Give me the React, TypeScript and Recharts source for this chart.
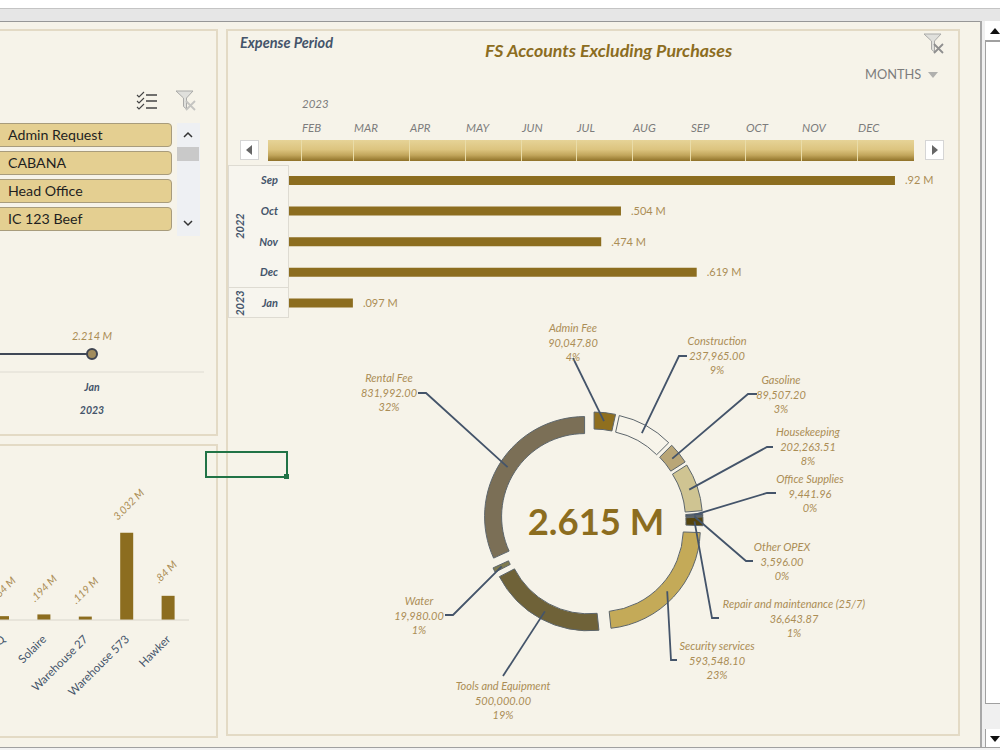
import React from 'react';
import {
  BarChart,
  Bar,
  LineChart,
  Line,
  PieChart,
  Pie,
  Sector,
  XAxis,
  YAxis,
  LabelList,
} from 'recharts';

// monthly expense bars
const periodMonths = ['Sep', 'Oct', 'Nov', 'Dec', 'Jan'];
const periodValues = [0.92, 0.504, 0.474, 0.619, 0.097];

// trend line, only the last point is in view
const trendMonths = ['Dec', 'Jan'];
const trendValues = [2.21, 2.214];

// branch bars
const branchNames = ['HQ', 'Solaire', 'Warehouse 27', 'Warehouse 573', 'Hawker'];
const branchValues = [0.134, 0.194, 0.119, 3.032, 0.84];

// accounts ring
const accountNames = [
  'Admin Fee',
  'Construction',
  'Gasoline',
  'Housekeeping',
  'Office Supplies',
  'Other OPEX',
  'Repair and maintenance (25/7)',
  'Security services',
  'Tools and Equipment',
  'Water',
  'Rental Fee',
];
const accountValues = [
  90047.8, 237965, 89507.2, 202263.51, 9441.96, 3596, 36643.87, 593548.1, 500000, 19980, 831992,
];
const accountPercents = ['4%', '9%', '3%', '8%', '0%', '0%', '1%', '23%', '19%', '1%', '32%'];

const sliceColors = [
  '#8f6f1f',
  '#f7f4ea',
  '#b9a677',
  '#cfc492',
  '#4a5a70',
  '#6a5a30',
  '#54440f',
  '#c4aa58',
  '#6f6238',
  '#7f7b50',
  '#7b6f56',
];

// slicers
const slicerItems = ['Admin Request', 'CABANA', 'Head Office', 'IC 123 Beef'];
const timelineMonths = ['FEB', 'MAR', 'APR', 'MAY', 'JUN', 'JUL', 'AUG', 'SEP', 'OCT', 'NOV', 'DEC'];
const timelineStops = [301, 353, 409, 465, 521, 576, 632, 690, 745, 801, 857];

// page position of each ring label: text centre, first line baseline, leader elbow and stub end
const ringLabelLayout = [
  { x: 573, y: 332, elbow: null, stub: [573, 358] },
  { x: 717, y: 345, elbow: [679, 356], stub: [687, 356] },
  { x: 781, y: 384, elbow: [748, 394], stub: [757, 394] },
  { x: 808, y: 436, elbow: [767, 447], stub: [773, 447] },
  { x: 810, y: 483, elbow: [767, 493], stub: [776, 493] },
  { x: 782, y: 551, elbow: [746, 561], stub: [753, 561] },
  { x: 794, y: 608, elbow: [712, 618], stub: [719, 618] },
  { x: 717, y: 650, elbow: [671, 660], stub: [677, 660] },
  { x: 503, y: 690, elbow: null, stub: [503, 676] },
  { x: 419, y: 605, elbow: [453, 615], stub: [445, 615] },
  { x: 389, y: 382, elbow: [426, 393], stub: [418, 393] },
];

const FONT = 'Lato, sans-serif';
const GOLD = '#8c6d1f';
const SLATE = '#44546a';
const LABEL = '#ab8d55';
const PANEL = '#f6f3e9';
const EDGE = '#e3dac5';

const RING_ORIGIN = { left: 340, top: 320 };
const RING_CENTER = { x: 593, y: 522 };
const RING_INNER = 83;
const RING_OUTER = 100;
const EXPLODE = 10;
const TREND_LEFT = -244;

const periodRows = periodMonths.map((month, i) => ({ month, value: periodValues[i] }));
const trendRows = trendMonths.map((month, i) => ({ month, value: trendValues[i] }));
const branchRows = branchNames.map((name, i) => ({ name, value: branchValues[i] }));
const accountRows = accountNames.map((name, i) => ({
  name,
  value: accountValues[i],
  fill: sliceColors[i],
}));

const shortMillions = (v: number) => `${String(v).replace(/^0/, '')} M`;

const box = (
  left: number,
  top: number,
  width: number,
  height: number,
  extra: React.CSSProperties = {},
): React.CSSProperties => ({
  position: 'absolute',
  left,
  top,
  width,
  height,
  boxSizing: 'border-box',
  ...extra,
});

const ExplodedSlice = (props: any) => {
  const rad = (props.midAngle * Math.PI) / 180;
  return (
    <Sector
      cx={props.cx + EXPLODE * Math.cos(rad)}
      cy={props.cy - EXPLODE * Math.sin(rad)}
      innerRadius={props.innerRadius}
      outerRadius={props.outerRadius}
      startAngle={props.startAngle}
      endAngle={props.endAngle}
      fill={props.fill}
      stroke="#5d666c"
      strokeWidth={1}
    />
  );
};

const RingLabel = (props: any) => {
  const { cx, cy, midAngle, index } = props;
  const rad = (midAngle * Math.PI) / 180;
  const r = EXPLODE + (RING_INNER + RING_OUTER) / 2;
  const ax = cx + r * Math.cos(rad);
  const ay = cy - r * Math.sin(rad);
  const spot = ringLabelLayout[index];
  const at = (p: number[]) => `${p[0] - RING_ORIGIN.left},${p[1] - RING_ORIGIN.top}`;
  const points = [`${ax},${ay}`, spot.elbow ? at(spot.elbow) : '', at(spot.stub)].join(' ');
  const amount = accountValues[index].toLocaleString('en-US', { minimumFractionDigits: 2 });
  const x = spot.x - RING_ORIGIN.left;
  const y = spot.y - RING_ORIGIN.top;
  return (
    <g>
      <polyline points={points} fill="none" stroke={SLATE} strokeWidth={1.8} />
      <text x={x} y={y} textAnchor="middle" fontSize={11} fontStyle="italic" fill={LABEL} fontFamily={FONT}>
        <tspan x={x}>{accountNames[index]}</tspan>
        <tspan x={x} dy={14.5}>{amount}</tspan>
        <tspan x={x} dy={14.5}>{accountPercents[index]}</tspan>
      </text>
    </g>
  );
};

const BranchTick = (props: any) => {
  const { x, y, payload } = props;
  return (
    <text
      x={x + 3}
      y={y + 12}
      textAnchor="end"
      transform={`rotate(-45 ${x + 3} ${y + 12})`}
      fontSize={11.5}
      fill={SLATE}
      fontFamily={FONT}
    >
      {payload.value}
    </text>
  );
};

const BranchValue = (props: any) => {
  const { x, y, width, value } = props;
  const px = x + width / 2 - 9;
  const py = y - 12;
  return (
    <text
      x={px}
      y={py}
      transform={`rotate(-45 ${px} ${py})`}
      fontSize={10.5}
      fontStyle="italic"
      fill={LABEL}
      fontFamily={FONT}
    >
      {shortMillions(value)}
    </text>
  );
};

// the earlier months sit past the left edge of the page, so they get no text
const TrendTick = (props: any) => {
  const { x, y, payload } = props;
  if (x + TREND_LEFT < 0) return null;
  return (
    <g fontFamily={FONT} fontSize={10.5} fontWeight={700} fontStyle="italic" fill={SLATE} textAnchor="middle">
      <text x={x} y={y + 11}>{payload.value}</text>
      <text x={x} y={y + 34}>2023</text>
    </g>
  );
};

const TrendValue = (props: any) => {
  const { x, y, value } = props;
  if (x + TREND_LEFT < 0) return null;
  return (
    <text x={x} y={y - 14} textAnchor="middle" fontSize={11} fontStyle="italic" fill={LABEL} fontFamily={FONT}>
      {`${value} M`}
    </text>
  );
};

const MonthTick = (props: any) => {
  const { x, y, payload } = props;
  return (
    <text
      x={x}
      y={y + 4}
      textAnchor="end"
      fontFamily={FONT}
      fontSize={11}
      fontWeight={700}
      fontStyle="italic"
      fill={SLATE}
    >
      {payload.value}
    </text>
  );
};

const FilterClear = ({ x, y, cross = '#c4c4c1' }: { x: number; y: number; cross?: string }) => (
  <svg style={{ position: 'absolute', left: x, top: y }} width={21} height={21} viewBox="0 0 21 21">
    <path d="M1 1h17l-6.5 7v11l-3-2.500V8z" fill="#e0e0dc" stroke="#aaaaa8" strokeWidth={1} />
    <path d="M11 11l9 9M20 11l-9 9" stroke={cross} strokeWidth={1.8} />
  </svg>
);

export default function App() {
  return (
    <div
      style={box(0, 0, 1000, 750, { position: 'fixed', overflow: 'hidden', background: PANEL, fontFamily: FONT })}
    >
      {/* sheet chrome */}
      <div style={box(0, 0, 1000, 9, { background: '#fff', borderBottom: '1px solid #c4c4c4' })} />
      <div style={box(0, 9, 1000, 13, { background: '#e6e6e6', borderBottom: '1px solid #979797' })} />
      <div style={box(980, 21, 20, 729, { background: '#f0f0f0', borderLeft: '2px solid #a8a8a8' })} />
      <div style={box(985, 21, 15, 683, { background: '#fff', borderLeft: '1px solid #a0a0a0', borderBottom: '1px solid #a0a0a0' })} />
      <div style={box(985, 21, 15, 21, { background: '#fff', borderBottom: '2px solid #a0a0a0' })} />
      <div style={box(985, 729, 15, 19, { background: '#fff', borderLeft: '1px solid #a0a0a0' })} />
      <svg style={{ position: 'absolute', left: 990, top: 28 }} width={10} height={8}>
        <path d="M0 6L5 0L10 6z" fill="#111" />
      </svg>
      <svg style={{ position: 'absolute', left: 990, top: 736 }} width={10} height={8}>
        <path d="M0 0L5 6L10 0z" fill="#111" />
      </svg>
      <div style={box(0, 747, 1000, 3, { background: '#f2f2f2', borderTop: '1px solid #a0a0a0' })} />

      {/* panels */}
      <div style={box(-6, 29, 224, 407, { border: `2px solid ${EDGE}` })} />
      <div style={box(-6, 444, 224, 294, { border: `2px solid ${EDGE}` })} />
      <div style={box(226, 29, 734, 707, { border: `2px solid ${EDGE}` })} />

      {/* branch slicer */}
      <svg style={{ position: 'absolute', left: 136, top: 90 }} width={22} height={21}>
        <path d="M1 5l2 2 5-5M1 11l2 2 5-5M1 17l2 2 5-5" fill="none" stroke="#444" strokeWidth={1.1} />
        <path d="M10 5h11M10 11h11M10 18h11" stroke="#444" strokeWidth={1.3} />
      </svg>
      <FilterClear x={175} y={90} />
      {slicerItems.map((item, i) => (
        <div
          key={item}
          style={box(-6, 123 + i * 28, 178, 24, {
            background: '#e4cf91',
            border: '1px solid #a89c7c',
            borderRadius: 4,
            paddingLeft: 13,
            fontSize: 14.2,
            lineHeight: '22px',
            color: '#1f1f1f',
          })}
        >
          {item}
        </div>
      ))}
      <div style={box(177, 123, 23, 113, { background: '#eef0f3' })} />
      <div style={box(177, 147, 22, 14, { background: '#c9c9c9' })} />
      <svg style={{ position: 'absolute', left: 183, top: 131 }} width={10} height={8}>
        <path d="M1 6L5 2L9 6" fill="none" stroke="#333" strokeWidth={1.5} />
      </svg>
      <svg style={{ position: 'absolute', left: 183, top: 219 }} width={10} height={8}>
        <path d="M1 2L5 6L9 2" fill="none" stroke="#333" strokeWidth={1.5} />
      </svg>

      {/* trend line */}
      <div style={box(TREND_LEFT, 320, 448, 100)}>
        <LineChart width={448} height={100} data={trendRows} margin={{ top: 0, right: 0, bottom: 0, left: 0 }}>
          <XAxis
            dataKey="month"
            scale="band"
            axisLine={{ stroke: '#dedbd2' }}
            tickLine={false}
            interval={0}
            height={48}
            tick={<TrendTick />}
          />
          <YAxis hide domain={[0, 6.4]} />
          <Line
            dataKey="value"
            stroke="#3f4856"
            strokeWidth={2}
            isAnimationActive={false}
            dot={{ r: 5, fill: '#a28c5c', stroke: '#3f4450', strokeWidth: 2 }}
          >
            <LabelList dataKey="value" content={<TrendValue />} />
          </Line>
        </LineChart>
      </div>

      {/* branch bars */}
      <div style={box(-18, 480, 207, 230)}>
        <BarChart width={207} height={230} data={branchRows} margin={{ top: 0, right: 0, bottom: 0, left: 0 }}>
          <XAxis
            dataKey="name"
            axisLine={{ stroke: '#d9d6cc' }}
            tickLine={false}
            interval={0}
            height={90}
            tick={<BranchTick />}
          />
          <YAxis hide domain={[0, 4.862]} />
          <Bar dataKey="value" fill={GOLD} barSize={13} isAnimationActive={false}>
            <LabelList dataKey="value" content={<BranchValue />} />
          </Bar>
        </BarChart>
      </div>

      {/* selected cell */}
      <div style={box(205, 451, 83, 27, { border: '2px solid #217346' })} />
      <div style={box(284, 474, 5, 5, { background: '#217346' })} />

      {/* right panel headings */}
      <div
        style={{
          position: 'absolute',
          left: 240,
          top: 34,
          fontSize: 14.5,
          fontWeight: 700,
          fontStyle: 'italic',
          color: SLATE,
        }}
      >
        Expense Period
      </div>
      <div
        style={{
          position: 'absolute',
          left: 485,
          top: 39,
          fontSize: 17.8,
          fontWeight: 700,
          fontStyle: 'italic',
          color: GOLD,
          whiteSpace: 'nowrap',
        }}
      >
        FS Accounts Excluding Purchases
      </div>
      <FilterClear x={923} y={33} cross="#8f8f8f" />
      <div style={{ position: 'absolute', left: 865, top: 66, fontSize: 12.8, color: '#7c7c7c' }}>MONTHS</div>
      <svg style={{ position: 'absolute', left: 928, top: 72 }} width={11} height={7}>
        <path d="M0 0H10L5 6z" fill="#b0b0ae" />
      </svg>

      {/* timeline */}
      <div style={{ position: 'absolute', left: 302, top: 97, fontSize: 11.5, fontStyle: 'italic', color: '#7c7c7c' }}>
        2023
      </div>
      {timelineMonths.map((m, i) => (
        <div
          key={m}
          style={{
            position: 'absolute',
            left: timelineStops[i] + 1,
            top: 121,
            fontSize: 11.5,
            fontStyle: 'italic',
            color: '#7c7c7c',
          }}
        >
          {m}
        </div>
      ))}
      <div
        style={box(268, 140, 646, 21, {
          background: 'linear-gradient(#e6d397 0%, #dcc47f 45%, #c2a65c 72%, #8f7128 100%)',
        })}
      />
      {timelineStops.map((x) => (
        <div key={x} style={box(x, 140, 1, 21, { background: '#e9dca8' })} />
      ))}
      <div style={box(240, 140, 19, 20, { background: '#fff', border: '1px solid #d5d5d5' })} />
      <svg style={{ position: 'absolute', left: 246, top: 145 }} width={7} height={11}>
        <path d="M6 0V10L0 5z" fill="#666" />
      </svg>
      <div style={box(925, 140, 19, 20, { background: '#fff', border: '1px solid #d5d5d5' })} />
      <svg style={{ position: 'absolute', left: 932, top: 145 }} width={7} height={11}>
        <path d="M0 0V10L6 5z" fill="#666" />
      </svg>

      {/* pivot axis boxes */}
      <div style={box(228, 165, 61, 153, { border: '1px solid #dedbd2', background: '#f7f5ee' })} />
      <div style={box(228, 287, 61, 1, { background: '#dedbd2' })} />
      {[
        { year: '2022', y: 226 },
        { year: '2023', y: 303 },
      ].map(({ year, y }) => (
        <div
          key={year}
          style={{
            position: 'absolute',
            left: 239,
            top: y,
            transform: 'translate(-50%, -50%) rotate(-90deg)',
            fontSize: 11,
            fontWeight: 700,
            fontStyle: 'italic',
            color: SLATE,
          }}
        >
          {year}
        </div>
      ))}

      {/* expense period bars */}
      <div style={box(228, 165, 730, 153)}>
        <BarChart
          layout="vertical"
          width={730}
          height={153}
          data={periodRows}
          margin={{ top: 0, right: 0, bottom: 0, left: 0 }}
        >
          <XAxis type="number" hide domain={[0, 1.0157]} />
          <YAxis
            type="category"
            dataKey="month"
            width={61}
            axisLine={false}
            tickLine={false}
            tickMargin={5}
            tick={<MonthTick />}
          />
          <Bar dataKey="value" fill={GOLD} barSize={9} isAnimationActive={false}>
            <LabelList
              dataKey="value"
              position="right"
              offset={10}
              formatter={shortMillions}
              fontSize={11}
              fill={LABEL}
              fontFamily={FONT}
            />
          </Bar>
        </BarChart>
      </div>

      {/* accounts ring */}
      <div style={box(RING_ORIGIN.left, RING_ORIGIN.top, 540, 410)}>
        <PieChart width={540} height={410} margin={{ top: 0, right: 0, bottom: 0, left: 0 }}>
          <Pie
            data={accountRows}
            dataKey="value"
            nameKey="name"
            cx={RING_CENTER.x - RING_ORIGIN.left}
            cy={RING_CENTER.y - RING_ORIGIN.top}
            innerRadius={RING_INNER}
            outerRadius={RING_OUTER}
            startAngle={90}
            endAngle={-270}
            shape={ExplodedSlice}
            label={RingLabel}
            labelLine={false}
            isAnimationActive={false}
          />
          <text
            x={RING_CENTER.x - RING_ORIGIN.left + 3}
            y={RING_CENTER.y - RING_ORIGIN.top + 13}
            textAnchor="middle"
            fontSize={36.5}
            fontWeight={700}
            fill={GOLD}
            fontFamily={FONT}
          >
            2.615 M
          </text>
        </PieChart>
      </div>
    </div>
  );
}
